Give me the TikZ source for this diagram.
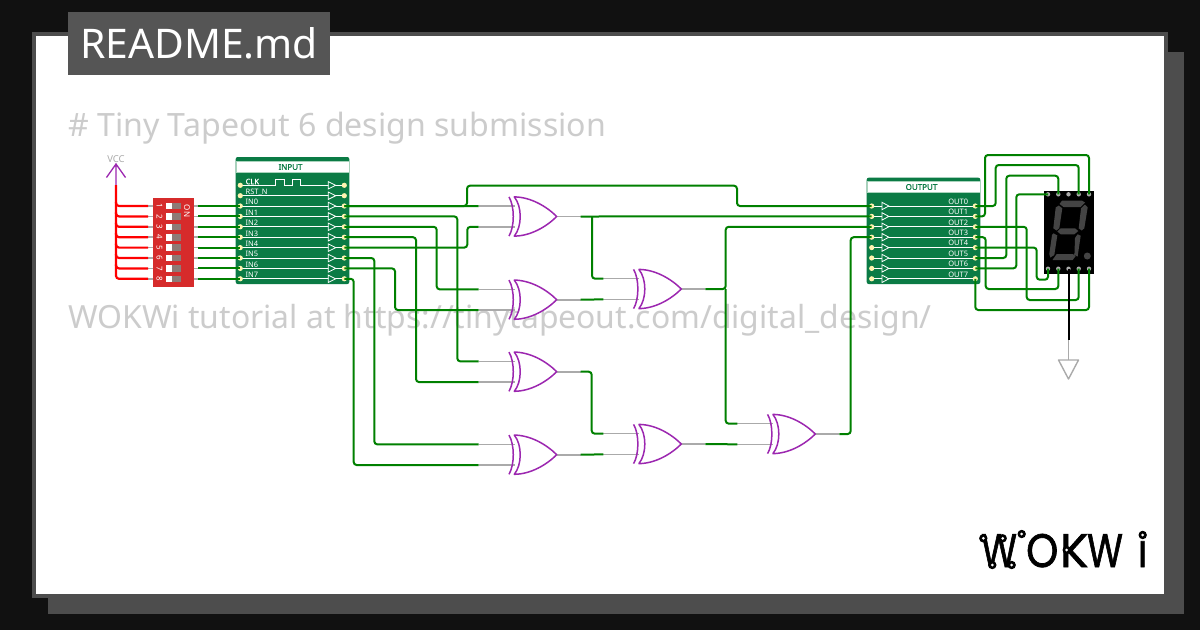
\documentclass[tikz,border=0pt]{standalone}
\usepackage{fontspec}
\setmainfont{Noto Sans}
\newfontfamily\boldlbl[FakeBold=1.2]{Noto Sans}
\newfontfamily\logofont[FakeBold=1.6]{Poppins}
\usetikzlibrary{calc}
\definecolor{bgdark}{HTML}{111111}
\definecolor{frameg}{HTML}{4D4D4D}
\definecolor{tabg}{HTML}{555555}
\definecolor{mdtext}{HTML}{CCCCCC}
\definecolor{wiregreen}{HTML}{008000}
\definecolor{pcbgreen}{HTML}{0B7B45}
\definecolor{hdrline}{HTML}{A9D3BC}
\definecolor{padcream}{HTML}{FFF3B0}
\definecolor{gatepurple}{HTML}{9C27B0}
\definecolor{pinGray}{HTML}{AAAAAA}
\definecolor{dipred}{HTML}{D62B2B}
\definecolor{dipdark}{HTML}{8D7B77}
\definecolor{segGray}{HTML}{444444}
\newcommand{\fsz}[1]{\fontsize{#1}{#1}\selectfont}
\tikzset{
  wire/.style={draw=wiregreen,line width=2pt,rounded corners=3pt},
  redwire/.style={draw=red,line width=2.2pt,rounded corners=3pt},
  graypin/.style={draw=pinGray,line width=1.6pt},
  mdline/.style={inner sep=0pt,anchor=base west,text=mdtext},
  rowline/.style={draw=white,line width=1pt},
  buf/.style={draw=white,fill=pcbgreen,line width=.8pt},
  pad/.style={fill=padcream,draw=none},
  lbl/.style={inner sep=0pt,text=white},
  seg/.style={fill=segGray,draw=none},
  pic7/.style={fill=pinGray,draw=none},
  pics/xorgate/.style={code={
    \coordinate (-a) at (0,-10.35);
    \coordinate (-b) at (0,10.35);
    \coordinate (-o) at (102,0);
    \draw[graypin] (-a) -- (36,-10.35);
    \draw[graypin] (-b) -- (36,10.35);
    \draw[graypin] (78,0) -- (-o);
    \draw[gatepurple,line width=1.5pt,fill=white,line join=round]
      (35.6,-19.6) .. controls (52,-19.5) and (68,-10) .. (78,0)
      .. controls (68,10) and (52,19.5) .. (35.6,19.6)
      .. controls (43.5,10) and (43.5,-10) .. cycle;
    \draw[gatepurple,line width=1.5pt] (30.3,-19.6) .. controls (36,-10) and (36,10) .. (30.3,19.6);
  }}
}
\begin{document}
\begin{tikzpicture}[x=1pt,y=-1pt]
\useasboundingbox (0,0) rectangle (1200,630);
% frame
\fill[bgdark] (0,0) rectangle (1200,630);
\fill[frameg] (48,52) rectangle (1184,614);
\filldraw[fill=white,draw=frameg,line width=4pt] (34,34) rectangle (1166,596);
\fill[tabg] (68,12) rectangle (330,75);
\node[inner sep=0pt,anchor=base west,text=white] (readme) at (80,58) {\fsz{40.8}README.md};
\node[mdline] (title) at (68,136) {\fsz{32.1}\# Tiny Tapeout 6 design submission};
\node[mdline] (tutorial) at (68,328) {\fsz{31.9}WOKWi tutorial at https://tinytapeout.com/digital\_design/};
% pins
\foreach \i/\y in {0/206,1/216.4,2/226.8,3/237.2,4/247.6,5/258,6/268.4,7/278.8}{
  \coordinate (dl\i) at (148,\y);
  \coordinate (dr\i) at (198,\y);
  \coordinate (il\i) at (240.3,\y);
  \coordinate (ir\i) at (344.3,\y);
  \coordinate (ol\i) at (871.7,\y);
  \coordinate (or\i) at (975.3,\y);
}
% VCC
\node[inner sep=0pt,text=pinGray] (vcclabel) at (116,159) {\fsz{9.5}VCC};
\coordinate (vcc) at (116,185);
\draw[gatepurple,line width=1.3pt] (106.5,177.5) -- (116,164) -- (125.5,177.5) (116,164) -- (vcc);
% DIP
\fill[dipred] (153.3,198.3) rectangle (193.7,287.3);
\foreach \i/\y in {0/206,1/216.4,2/226.8,3/237.2,4/247.6,5/258,6/268.4,7/278.8}{
  \draw[pinGray,line width=1.6pt] (dl\i) -- (153.3,\y) (193.7,\y) -- (dr\i);
  \fill[white] (166.3,\y-3.3) rectangle (172.3,\y+3.3);
  \fill[dipdark] (172.3,\y-3.3) rectangle (180.7,\y+3.3);
  \pgfmathtruncatemacro{\n}{\i+1}
  \node[inner sep=0pt,text=white,rotate=-90] (dipnum\i) at (159.5,\y) {\fsz{8}\n};
}
\node[inner sep=0pt,text=white,rotate=-90] (dipon) at (187,211) {\fsz{8}ON};
% input block
\fill[pcbgreen,rounded corners=2pt] (235.7,157) rectangle (349.3,284);
\filldraw[fill=white,draw=hdrline,line width=.5pt] (236,161) rectangle (349,172.3);
\node[inner sep=0pt,text=pcbgreen] (inputlbl) at (290.5,167) {\boldlbl\fsz{8}INPUT};
\draw[rowline] (240.3,185.3) -- (275,185.3) -- (275,179.3) -- (284.3,179.3) -- (284.3,185.3) -- (292.3,185.3) -- (292.3,179.3) -- (300.7,179.3) -- (300.7,185.3) -- (344.3,185.3);
\draw[rowline] (240.3,195.7) -- (344.3,195.7);
\foreach \y in {185.3,195.7}{
  \draw[buf] (328.3,\y-3.7) -- (335.7,\y) -- (328.3,\y+3.7) -- cycle;
  \fill[pad] (240.3,\y) circle (2.6);
  \fill[pad] (344.3,\y) circle (2.6);
}
\node[lbl,anchor=base west] (clk) at (245.5,184.2) {\boldlbl\fsz{7.5}CLK};
\node[lbl,anchor=base west] (rst) at (245.5,194.4) {\fsz{7.5}RST\_N};
\foreach \i in {0,...,7}{
  \draw[rowline] (il\i) -- (ir\i);
  \path (ir\i) ++(-16,0) coordinate (tb);
  \draw[buf] ($(tb)+(0,-3.7)$) -- ($(tb)+(7.4,0)$) -- ($(tb)+(0,3.7)$) -- cycle;
  \fill[pad] (il\i) circle (2.6);
  \fill[pad] (ir\i) circle (2.6);
  \node[lbl,anchor=base west] (inl\i) at ($(il\i)+(5.2,-1.2)$) {\fsz{7.5}IN\i};
}
% output block
\fill[pcbgreen,rounded corners=2pt] (866.7,177.7) rectangle (980.3,284);
\filldraw[fill=white,draw=hdrline,line width=.5pt] (867,181) rectangle (980,192.7);
\node[inner sep=0pt,text=pcbgreen] (outputlbl) at (921.5,187) {\boldlbl\fsz{8}OUTPUT};
\foreach \i in {0,...,7}{
  \draw[rowline] (ol\i) -- (or\i);
  \path (ol\i) ++(10.3,0) coordinate (tb);
  \draw[buf] ($(tb)+(0,-3.7)$) -- ($(tb)+(6.8,0)$) -- ($(tb)+(0,3.7)$) -- cycle;
  \fill[pad] (ol\i) circle (2.6);
  \fill[pad] (or\i) circle (2.6);
  \node[lbl,anchor=base east] (outl\i) at ($(or\i)+(-7,-1.7)$) {\fsz{7.5}OUT\i};
}
% seven segment
\fill[black] (1043.7,190.7) rectangle (1094,274.3);
\fill[seg] (1062,200.7) -- (1082,200.7) -- (1085,202.5) -- (1080.5,207) -- (1063.5,207) -- (1059.5,204) -- cycle;
\fill[seg] (1058.8,205.5) -- (1062.3,208.3) -- (1059.3,228.3) -- (1056.5,230.5) -- (1053.3,228.3) -- (1055.7,207.5) -- cycle;
\fill[seg] (1085,204.5) -- (1087.7,207.3) -- (1084.3,228.3) -- (1081.7,230.5) -- (1078.7,228.3) -- (1081,208.3) -- cycle;
\fill[seg] (1057.3,231.5) -- (1060.7,228.3) -- (1075,228.3) -- (1078.3,231) -- (1074.3,234.3) -- (1060.7,234.3) -- cycle;
\fill[seg] (1053.5,233.3) -- (1057.3,235.5) -- (1054.3,255) -- (1050.3,257.5) -- (1049.3,254) -- (1052,235) -- cycle;
\fill[seg] (1077.6,234.3) -- (1080.7,235.7) -- (1077.6,256.7) -- (1074,254.5) -- (1074.5,253) -- (1075,238) -- cycle;
\fill[seg] (1052.5,260) -- (1056.7,254) -- (1072.7,254) -- (1075.7,256) -- (1072.7,260) -- cycle;
\fill[seg] (1087.3,256) circle (3.5);
\foreach \i/\x in {1/1048,2/1058.3,3/1068.5,4/1078.7,5/1089}{
  \coordinate (st\i) at (\x,194.3);
  \coordinate (sb\i) at (\x,268.7);
  \fill[pic7] (st\i) circle (2.2);
  \fill[pic7] (sb\i) circle (2.2);
}
% gates
\pic (g1) at (478.7,216.5) {xorgate};
\pic (g2) at (478.7,299.7) {xorgate};
\pic (g3) at (478.7,371.7) {xorgate};
\pic (g4) at (478.7,454.7) {xorgate};
\pic (g5) at (603.3,289) {xorgate};
\pic (g6) at (603.3,444) {xorgate};
\pic (g7) at (737.3,434) {xorgate};
% red wires
\draw[redwire] (vcc) -- (116,278.8) -- (dl7);
\foreach \i in {0,...,6}{ \draw[redwire] (116,{206+10.4*\i-4}) -- (116,{206+10.4*\i}) -- (dl\i); }
% dip to input
\foreach \i in {0,...,7}{ \draw[wire] (dr\i) -- (il\i); }
% input to gates
\draw[wire] (ir0) -- (g1-a);
\draw[wire] (ir0) -- (467,206) -- (467,185.7) -- (737,185.7) -- (737,206) -- (ol0);
\draw[wire] (ir1) -- (457.3,216.4) -- (457.3,361.35) -- (g3-a);
\draw[wire] (ir2) -- (436.7,226.8) -- (436.7,289.35) -- (g2-a);
\draw[wire] (ir3) -- (416,237.2) -- (416,382.05) -- (g3-b);
\draw[wire] (ir4) -- (467.3,247.6) -- (467.3,226.85) -- (g1-b);
\draw[wire] (ir5) -- (374.3,258) -- (374.3,444.35) -- (g4-a);
\draw[wire] (ir6) -- (395,268.4) -- (395,310.05) -- (g2-b);
\draw[wire] (ir7) -- (353.7,278.8) -- (353.7,465.05) -- (g4-b);
% gate to gate
\draw[wire] (g1-o) -- (ol1);
\draw[wire] (592,216.5) -- (592,278.65) -- (g5-a);
\draw[wire] (g2-o) -- (g5-b);
\draw[wire] (g3-o) -- (591.7,371.7) -- (591.7,433.65) -- (g6-a);
\draw[wire] (g4-o) -- (g6-b);
\draw[wire] (g5-o) -- (725.7,289) -- (725.7,226.8) -- (ol2);
\draw[wire] (725.7,289) -- (725.7,423.65) -- (g7-a);
\draw[wire] (g6-o) -- (g7-b);
\draw[wire] (g7-o) -- (850.7,434) -- (850.7,237.2) -- (ol3);
% output to display
\draw[wire] (or0) -- (995.7,206) -- (995.7,165) -- (1078.7,165) -- (st4);
\draw[wire] (or1) -- (985,216.4) -- (985,155) -- (1089,155) -- (st5);
\draw[wire] (or2) -- (1026.7,226.8) -- (1026.7,300) -- (1078.7,300) -- (sb4);
\draw[wire] (or3) -- (985.7,237.2) -- (985.7,289) -- (1058.3,289) -- (sb2);
\draw[wire] (or4) -- (1036.7,247.6) -- (1036.7,279.7) -- (1048,279.7) -- (sb1);
\draw[wire] (or5) -- (1006.3,258) -- (1006.3,175.7) -- (1058.3,175.7) -- (st2);
\draw[wire] (or6) -- (1016.3,268.4) -- (1016.3,194.3) -- (st1);
\draw[wire] (or7) -- (975.3,310) -- (1089,310) -- (sb5);
% ground
\coordinate (gndtop) at (1068.5,340);
\coordinate (gndsym) at (1068.5,360);
\draw[black,line width=2pt] (sb3) -- (gndtop);
\draw[pinGray,line width=1.4pt] (gndtop) -- (gndsym);
\draw[pinGray,line width=1.4pt,line join=round] (1058.5,360) -- (1078.5,360) -- (1068.5,379) -- cycle;
% logo
\node[inner sep=0pt,anchor=base west,text=black,xscale=.78] (logoW1) at (981,567) {\logofont\fsz{47}W};
\node[inner sep=0pt,anchor=base west,text=black,xscale=.87] (logoO) at (1026,567) {\logofont\fsz{47}O};
\node[inner sep=0pt,anchor=base west,text=black,xscale=1] (logoK) at (1060,567) {\logofont\fsz{47}K};
\node[inner sep=0pt,anchor=base west,text=black,xscale=.78] (logoW2) at (1087,567) {\logofont\fsz{47}W};
\node[inner sep=0pt,anchor=base west,text=black,xscale=.78] (logoi) at (1138,567) {\logofont\fsz{47}i};
\foreach \x/\y in {983.3/538.3,1002.7/538.3,1021.7/534,992.3/565,1011.7/565,1066.7/550,1142.7/535}{
  \fill[black] (\x,\y) circle (4.2);
  \fill[white] (\x,\y) circle (1.5);
}
\end{tikzpicture}
\end{document}
